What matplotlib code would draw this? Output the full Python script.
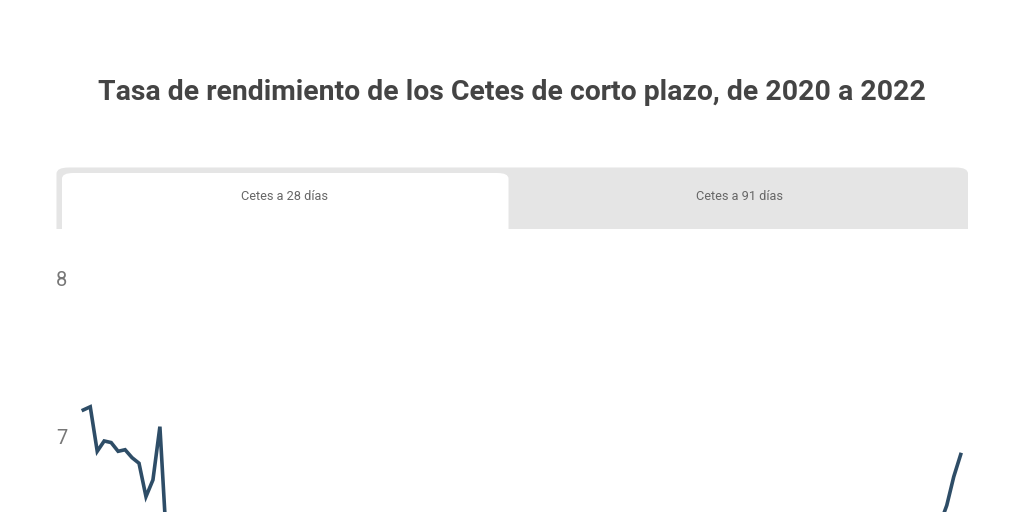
import matplotlib
matplotlib.use('Agg')
import matplotlib.pyplot as plt
from matplotlib.patches import FancyBboxPatch, Rectangle
import numpy as np
import pandas as pd

plt.rcParams['font.family'] = ['Roboto', 'DejaVu Sans']

title = 'Tasa de rendimiento de los Cetes de corto plazo, de 2020 a 2022'
tab_labels = ['Cetes a 28 días', 'Cetes a 91 días']

# weekly Cetes 28-day rate, Jan 2020 to Jun 2022 (only the top of the series is in frame)
cetes28 = [
    7.17, 7.19, 6.91, 6.975, 6.965, 6.91, 6.92, 6.87, 6.835, 6.625, 6.73, 7.065, 6.30,
    6.15, 6.00, 5.85, 5.75,
    5.65, 5.55, 5.50, 5.45, 5.40,
    5.30, 5.20, 5.05, 4.95,
    4.85, 4.75, 4.70, 4.60,
    4.55, 4.50, 4.45, 4.45, 4.40,
    4.35, 4.30, 4.25, 4.20,
    4.20, 4.22, 4.21, 4.19,
    4.20, 4.25, 4.27, 4.26, 4.28,
    4.30, 4.28, 4.26, 4.27,
    4.22, 4.24, 4.21, 4.20,
    4.18, 4.12, 4.02, 4.00,
    4.05, 4.06, 4.03, 4.07, 4.05,
    4.08, 4.06, 4.07, 4.09,
    4.07, 4.10, 4.11, 4.09,
    4.12, 4.18, 4.25, 4.30, 4.32,
    4.35, 4.33, 4.37, 4.40,
    4.48, 4.50, 4.52, 4.50,
    4.55, 4.60, 4.62, 4.65, 4.68,
    4.75, 4.80, 4.82, 4.86,
    4.95, 5.00, 5.05, 5.15,
    5.25, 5.30, 5.40, 5.50, 5.52,
    5.55, 5.60, 5.70, 5.65,
    5.80, 5.95, 6.05, 6.10,
    6.15, 6.20, 6.30, 6.45, 6.48,
    6.50, 6.48, 6.45, 6.50,
    6.46, 6.42, 6.45, 6.57, 6.75, 6.89,
]
dates = pd.date_range('2020-01-07', periods=len(cetes28), freq='7D')
yticks = [7, 8]  # the lower ticks fall outside the frame

W, H = 1024, 512
fig = plt.figure(figsize=(W / 100, H / 100), dpi=100, facecolor='white')

def px(x, y):  # top-left pixel coords -> figure fraction
    return x / W, 1 - y / H

# tab bar
gray = FancyBboxPatch((56.5 / W, 1 - 250 / H), (968 - 56.5) / W, (250 - 167.5) / H,
                      boxstyle='round,pad=0,rounding_size=0.012', transform=fig.transFigure,
                      facecolor='#e5e5e5', edgecolor='none')
fig.patches.append(gray)
white_tab = FancyBboxPatch((62 / W, 1 - 250 / H), (508.5 - 62) / W, (250 - 173) / H,
                           boxstyle='round,pad=0,rounding_size=0.011', transform=fig.transFigure,
                           facecolor='white', edgecolor='none')
fig.patches.append(white_tab)
fig.patches.append(Rectangle((0, 0), 1, 1 - 228.5 / H, transform=fig.transFigure,
                             facecolor='white', edgecolor='none'))

fig.text(*px(512, 92.5), title, ha='center', va='center', fontsize=20.4,
         fontweight='bold', color='#444444')
fig.text(*px(284.5, 196.5), tab_labels[0], ha='center', va='center', fontsize=9.2, color='#666666')
fig.text(*px(740, 196.5), tab_labels[1], ha='center', va='center', fontsize=9.2, color='#666666')

# axes: 8 at y=278px, 7 at y=437px, first point x=83.3px, last x=960.7px
unit = 437 - 278
ymin, ymax = 3.5, 8.0
y7 = H - 437
bottom_px = y7 - (7 - ymin) * unit
ax = fig.add_axes([83.3 / W, bottom_px / H, (960.7 - 83.3) / W, (ymax - ymin) * unit / H])
ax.set_zorder(3)
ax.patch.set_alpha(0)
ax.plot(dates, cetes28, color='#2e4d67', linewidth=2.6, solid_joinstyle='miter', clip_on=False)
ax.set_xlim(dates[0], dates[-1])
ax.set_ylim(ymin, ymax)
ax.set_yticks(yticks)
ax.set_yticklabels([str(t) for t in yticks])
ax.tick_params(axis='y', length=0, pad=11.5, labelsize=14.5, labelcolor='#777777')
ax.set_xticks([])
for s in ax.spines.values():
    s.set_visible(False)

fig.savefig('out.png', dpi=100, facecolor='white')
